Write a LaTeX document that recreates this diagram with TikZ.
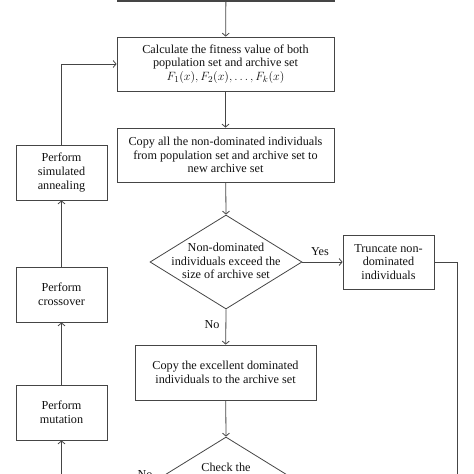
\documentclass[tikz,border=0pt]{standalone}
\usepackage{fontspec}
\setmainfont{Liberation Serif}
\usetikzlibrary{arrows.meta,shapes.geometric}
\definecolor{ln}{HTML}{454545}
\definecolor{tx}{HTML}{111111}
\tikzset{
  txt/.style={text=tx, font=\fontsize{12.2}{13.6}\selectfont},
  box/.style={draw=ln, line width=0.8pt, rectangle, align=center, inner sep=1pt, txt},
  dia/.style={draw=ln, line width=0.8pt, diamond, inner sep=0pt, minimum width=152pt, minimum height=94pt},
  lab/.style={txt, inner sep=1pt, align=center},
  conn/.style={draw=ln, line width=0.8pt},
  arr/.style={conn, -{Straight Barb[length=3pt,width=7pt]}}
}
\begin{document}
\begin{tikzpicture}[x=1pt,y=-1pt]
\useasboundingbox (0,0) rectangle (474,474);
\clip (0,0) rectangle (474,474);
\node[box, line width=1.6pt, minimum width=216pt, minimum height=40pt] (start) at (226,-19) {};
\node[box, minimum width=217pt, minimum height=54pt] (calc) at (225.5,64) {Calculate the fitness value of both\\population set and archive set\\$F_1(x), F_2(x), \ldots, F_k(x)$};
\node[box, minimum width=217pt, minimum height=54pt] (copy1) at (225.5,155) {Copy all the non-dominated individuals\\from population set and archive set to\\new archive set};
\node[dia] (d1) at (226,262) {};
\node[lab] (d1t) at (226,261) {Non-dominated\\individuals exceed the\\size of archive set};
\node[box, minimum width=91pt, minimum height=54pt] (trunc) at (388.5,262) {Truncate non-\\dominated\\individuals};
\node[box, minimum width=181pt, minimum height=55pt] (copy2) at (225.5,372.5) {Copy the excellent dominated\\individuals to the archive set};
\node[dia] (d2) at (226,484) {};
\node[lab] (chk) at (226,467) {Check the};
\node[box, minimum width=91pt, minimum height=55pt] (sa) at (61.5,172.5) {Perform\\simulated\\annealing};
\node[box, minimum width=91pt, minimum height=55pt] (cross) at (61.5,294.5) {Perform\\crossover};
\node[box, minimum width=91pt, minimum height=55pt] (mut) at (61.5,412.5) {Perform\\mutation};
\coordinate (rb) at (457.5,490);
\coordinate (lb) at (61.5,490);
\coordinate (lt) at (61.5,64);
\coordinate (rt) at (457.5,262);
\draw[arr] (start) -- (calc);
\draw[arr] (calc) -- (copy1);
\draw[arr] (copy1) -- (d1.north);
\draw[arr] (d1.east) -- (trunc.west);
\node[lab] (yes) at (320,252) {Yes};
\draw[arr] (d1.south) -- (copy2);
\node[lab] (no1) at (212,325) {No};
\draw[arr] (copy2) -- (d2.north);
\draw[conn] (trunc.east) -- (rt) -- (rb);
\draw[arr] (lb) -- (mut);
\draw[arr] (mut) -- (cross);
\draw[arr] (cross) -- (sa);
\draw[arr] (sa.north) -- (lt) -- (calc.west);
\node[lab, anchor=north] (no2) at (145,469) {No};
\end{tikzpicture}
\end{document}
